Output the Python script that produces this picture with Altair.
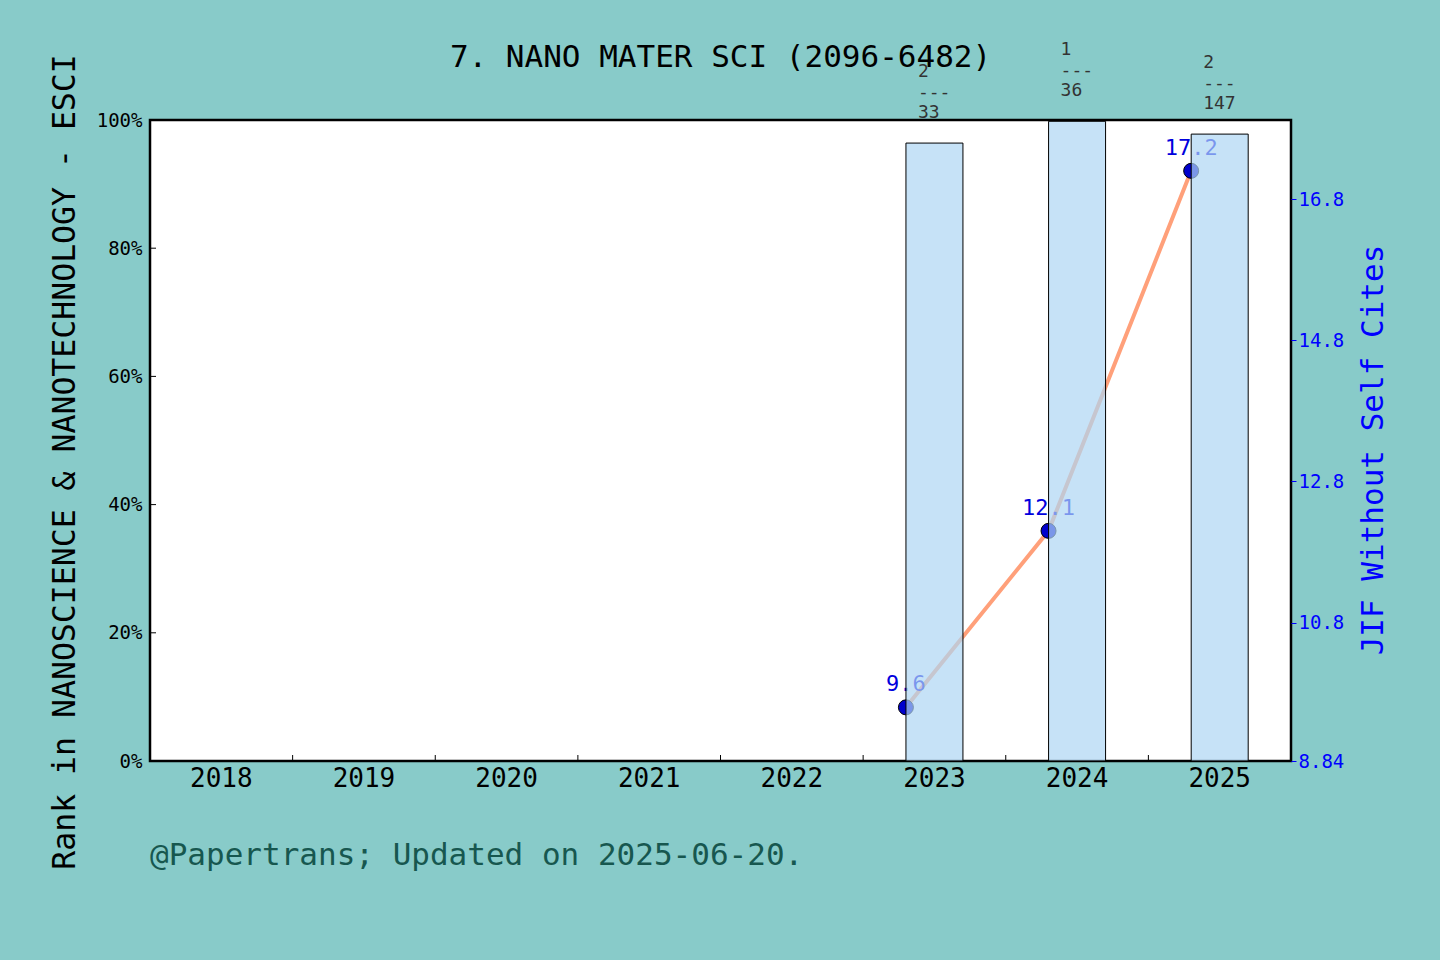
import altair as alt
import pandas as pd

# ---- data ----
years = ["2018", "2019", "2020", "2021", "2022", "2023", "2024", "2025"]
bar_years = ["2023", "2024", "2025"]
rank_pct = [0.964, 0.998, 0.978]
ranks = [2, 1, 2]
totals = [33, 36, 147]
jif = [9.6, 12.1, 17.2]
pct_ticks = [0, 0.2, 0.4, 0.6, 0.8, 1.0]
jif_ticks = [8.84, 10.8, 12.8, 14.8, 16.8]
jif_domain = [8.84, 17.92]

title_text = "7. NANO MATER SCI (2096-6482)"
footer_text = "@Papertrans; Updated on 2025-06-20."
left_title = "Rank in NANOSCIENCE & NANOTECHNOLOGY - ESCI"
right_title = "JIF Without Self Cites"

W, H = 1141, 641
FONT = "DejaVu Sans Mono"

df = pd.DataFrame({
    "year": bar_years,
    "pct": rank_pct,
    "jif": jif,
    "rank_label": [f"{r}\n---\n{t}" for r, t in zip(ranks, totals)],
    "jif_label": [f"{v:.1f}" for v in jif],
})
xtick_df = pd.DataFrame({"year": years[1:]})
ytick_df = pd.DataFrame({"pct": pct_ticks})
text_df = pd.DataFrame({"t": [title_text], "f": [footer_text]})

xscale = alt.Scale(domain=years, paddingInner=0, paddingOuter=0)
xaxis = alt.Axis(title=None, domain=False, ticks=False, labelFont=FONT,
                 labelFontSize=26, labelColor="black", labelPadding=4,
                 labelAngle=0)

pct_scale = alt.Scale(domain=[0, 1], nice=False, zero=True)
pct_axis = alt.Axis(orient="left", values=pct_ticks, format=".0%",
                    domain=False, ticks=False, grid=False,
                    labelFont=FONT, labelFontSize=19, labelColor="black",
                    labelPadding=8,
                    title=left_title, titleFont=FONT, titleFontSize=31.5,
                    titleFontWeight="normal", titleColor="black",
                    titleAngle=270, titleAlign="center", titleBaseline="middle",
                    titleX=-85, titleY=341.5)

jif_scale = alt.Scale(domain=jif_domain, nice=False, zero=False)
jif_axis = alt.Axis(orient="right", values=jif_ticks, format=".3~g",
                    domain=False, ticks=True, tickSize=5, tickColor="blue",
                    grid=False,
                    labelFont=FONT, labelFontSize=19, labelColor="blue",
                    labelPadding=2,
                    title=right_title, titleFont=FONT, titleFontSize=31,
                    titleFontWeight="normal", titleColor="blue",
                    titleAngle=270, titleAlign="center", titleBaseline="middle",
                    titleX=82.5, titleY=329.5)

x_pt = alt.X("year:N", bandPosition=0.3, scale=xscale, axis=xaxis)
x_c = alt.X("year:N", scale=xscale, axis=xaxis)

# ---- right (JIF) group ----
line = alt.Chart(df).mark_line(color="#FFA07A", strokeWidth=4).encode(
    x=x_pt, y=alt.Y("jif:Q", scale=jif_scale, axis=jif_axis))
points = alt.Chart(df).mark_point(filled=True, color="#0000CD", size=225,
                                  stroke="black", strokeWidth=1,
                                  opacity=1).encode(
    x=x_pt, y=alt.Y("jif:Q", scale=jif_scale, axis=jif_axis))
jif_labels = alt.Chart(df).mark_text(font=FONT, fontSize=22, color="#0000DD",
                                     align="center", baseline="alphabetic",
                                     dy=-16).encode(
    x=x_pt, y=alt.Y("jif:Q", scale=jif_scale, axis=jif_axis),
    text="jif_label:N")
right_group = alt.layer(line, points, jif_labels)

# ---- left (rank %) group ----
bars = alt.Chart(df).mark_bar(width=57, color="#AED5F3", fillOpacity=0.7,
                              stroke="black", strokeWidth=1,
                              strokeOpacity=1).encode(
    x=x_c, y=alt.Y("pct:Q", scale=pct_scale, axis=pct_axis))
bar_labels = alt.Chart(df).mark_text(font=FONT, fontSize=18, color="#333333",
                                     align="left", baseline="bottom",
                                     lineBreak="\n", lineHeight=20.5,
                                     dx=-16.5, dy=-62).encode(
    x=x_c, y=alt.Y("pct:Q", scale=pct_scale, axis=pct_axis),
    text="rank_label:N")
ytick_rules = alt.Chart(ytick_df).mark_rule(color="black", strokeWidth=1).encode(
    y=alt.Y("pct:Q", scale=pct_scale, axis=pct_axis),
    x=alt.value(0), x2=alt.value(6))
left_group = alt.layer(bars, bar_labels, ytick_rules)

# ---- other decorations ----
xtick_rules = alt.Chart(xtick_df).mark_rule(color="black", strokeWidth=1).encode(
    x=alt.X("year:N", bandPosition=0, scale=xscale, axis=xaxis),
    y=alt.value(H - 6), y2=alt.value(H))
title_mark = alt.Chart(text_df).mark_text(font=FONT, fontSize=31, color="black",
                                          align="center",
                                          baseline="alphabetic").encode(
    x=alt.value(W / 2), y=alt.value(-53), text="t:N")
footer_mark = alt.Chart(text_df).mark_text(font=FONT, fontSize=31,
                                           color="#17574F", align="left",
                                           baseline="alphabetic").encode(
    x=alt.value(0), y=alt.value(745), text="f:N")

chart = alt.layer(right_group, left_group, xtick_rules, title_mark,
                  footer_mark).resolve_scale(y="independent").properties(
    width=W, height=H,
    padding={"left": 150, "top": 120, "right": 149, "bottom": 199},
    autosize=alt.AutoSizeParams(type="none"),
    background="#88CBC9",
).configure_view(stroke="black", strokeWidth=2.5, fill="white")

chart.save("out.html", embed_options={"renderer": "svg", "actions": False})
